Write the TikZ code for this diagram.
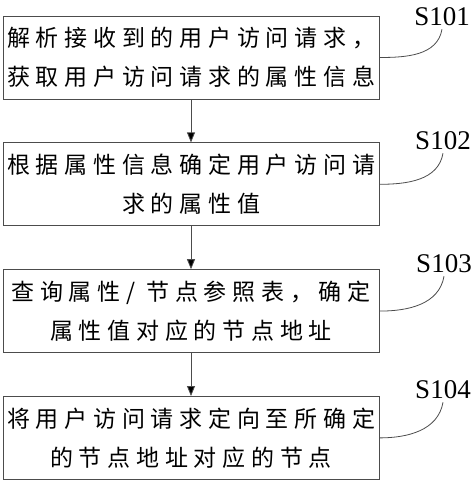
\documentclass[tikz,border=0pt]{standalone}
\usepackage{fontspec}
\newfontfamily\cjk[LetterSpace=25]{Noto Sans CJK SC}
\newfontfamily\labfont{Liberation Serif}
\usetikzlibrary{arrows.meta,positioning}

\tikzset{
  stepbox/.style={draw=black!70,line width=0.8pt,minimum width=376pt,minimum height=83pt,
    inner sep=0pt,align=center,font=\cjk\fontsize{23}{39}\selectfont},
  steplabel/.style={font=\labfont\fontsize{27}{27}\selectfont,inner sep=3pt},
  leader/.style={draw=black!70,line width=0.8pt}
}

\begin{document}
\begin{tikzpicture}[x=1pt,y=1pt,>={Triangle[width=8pt,length=10pt]},node distance=43pt]
  \useasboundingbox (0,0) rectangle (474,-481);

  \node[stepbox] (parse) at (191,-57.5) {解析接收到的用户访问请求，\\获取用户访问请求的属性信息};
  \node[stepbox] (attr)     [below=of parse]  {根据属性信息确定用户访问请\\求的属性值};
  \node[stepbox] (lookup)   [below=of attr]   {查询属性/ 节点参照表，确定\\属性值对应的节点地址};
  \node[stepbox] (redirect) [below=of lookup] {将用户访问请求定向至所确定\\的节点地址对应的节点};

  \node[steplabel] (s101) at (442,-17)  {S101};
  \node[steplabel] (s102) at (443,-141) {S102};
  \node[steplabel] (s103) at (444,-264) {S103};
  \node[steplabel] (s104) at (443,-390) {S104};

  % flow
  \path[->,draw=black!70,line width=0.8pt] (parse) edge (attr)
                                           (attr) edge (lookup)
                                           (lookup) edge (redirect);

  % step labels
  \path[leader] (parse.east)    edge[out=0,in=-100] (s101.south)
                (attr.east)     edge[out=0,in=-100] (s102.south)
                (lookup.east)   edge[out=0,in=-100] (s103.south)
                (redirect.east) edge[out=0,in=-100] (s104.south);
\end{tikzpicture}
\end{document}
